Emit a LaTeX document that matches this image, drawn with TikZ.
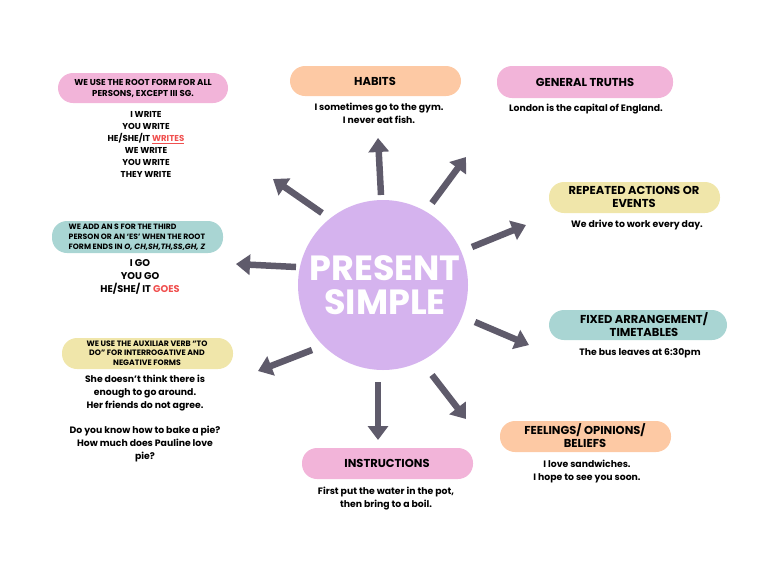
\documentclass[tikz,border=0pt]{standalone}
\usepackage{fontspec}
\setmainfont{Poppins}
\usetikzlibrary{arrows.meta}
\definecolor{lav}{HTML}{D5B3EE}
\definecolor{pk}{HTML}{F2B4D9}
\definecolor{pc}{HTML}{FDC9A4}
\definecolor{yl}{HTML}{F0E6AA}
\definecolor{tl}{HTML}{A9D5D3}
\definecolor{ar}{HTML}{5F5B6B}
\definecolor{rd}{HTML}{F0504F}
\begin{document}
\begin{tikzpicture}[x=1pt,y=-1pt,
 pill/.style={rounded corners=15pt,font=\bfseries\fontsize{11.5}{13}\selectfont,align=center},
 body/.style={font=\bfseries\fontsize{9.3}{13}\selectfont,align=center,anchor=north},
 arw/.style={draw=ar,line width=6.5pt,-{Triangle[width=20pt,length=14pt]}}]
\useasboundingbox (0,0) rectangle (768,576);
\fill[lav] (383,285) circle (85);
\node[white,font=\bfseries\fontsize{35}{34}\selectfont,align=center] (t) at (385,285) {PRESENT\\SIMPLE};
% pills
\fill[pk,rounded corners=15pt] (58,73) rectangle (228,103);
\node[pill,font=\bfseries\fontsize{8.6}{11}\selectfont] (p1) at (143,88) {WE USE THE ROOT FORM FOR ALL\\PERSONS, EXCEPT III SG.};
\fill[pc,rounded corners=15pt] (290,66) rectangle (461,96);
\node[pill] (p2) at (375,81) {HABITS};
\fill[pk,rounded corners=15pt] (497,66) rectangle (673,98);
\node[pill] (p3) at (585,82) {GENERAL TRUTHS};
\fill[yl,rounded corners=15pt] (549,182) rectangle (720,213);
\node[pill] (p4) at (634,197) {REPEATED ACTIONS OR\\EVENTS};
\fill[tl,rounded corners=15pt] (549,310) rectangle (727,340);
\node[pill] (p5) at (644,325) {FIXED ARRANGEMENT/\\TIMETABLES};
\fill[pc,rounded corners=15pt] (500,421) rectangle (671,452);
\node[pill] (p6) at (585,436) {FEELINGS/ OPINIONS/\\BELIEFS};
\fill[pk,rounded corners=15pt] (302,448) rectangle (473,479);
\node[pill] (p7) at (387,463) {INSTRUCTIONS};
\fill[yl,rounded corners=15pt] (62,338) rectangle (233,369);
\node[pill,font=\bfseries\fontsize{7.8}{9.5}\selectfont] (p8) at (147,353) {WE USE THE AUXILIAR VERB ``TO\\DO'' FOR INTERROGATIVE AND\\NEGATIVE FORMS};
\fill[tl,rounded corners=15pt] (52,221) rectangle (223,253);
\node[pill,font=\bfseries\fontsize{7.7}{10}\selectfont,align=left] (p9) at (137,237) {WE ADD AN S FOR THE THIRD\\PERSON OR AN `ES' WHEN THE ROOT\\FORM ENDS IN \textit{O, CH,SH,TH,SS,GH, Z}};
% bodies
\node[body,font=\bfseries\fontsize{8.6}{12}\selectfont] (b1) at (146,108) {I WRITE\\YOU WRITE\\HE/SHE/IT \textcolor{rd}{\underline{WRITES}}\\WE WRITE\\YOU WRITE\\THEY WRITE};
\node[body] (b2) at (379,100) {I sometimes go to the gym.\\I never eat fish.};
\node[body] (b3) at (586,101) {London is the capital of England.};
\node[body] (b4) at (637,217) {We drive to work every day.};
\node[body] (b5) at (640,345) {The bus leaves at 6:30pm};
\node[body] (b6) at (587,457) {I love sandwiches.\\I hope to see you soon.};
\node[body] (b7) at (386,484) {First put the water in the pot,\\then bring to a boil.};
\node[body] (b8) at (145,372) {She doesn't think there is\\enough to go around.\\Her friends do not agree.\\[12pt]Do you know how to bake a pie?\\How much does Pauline love\\pie?};
\node[body,font=\bfseries\fontsize{9.8}{13}\selectfont] (b9) at (140,256) {I GO\\YOU GO\\HE/SHE/ IT \textcolor{rd}{GOES}};
% arrows
\foreach \a/\b/\c/\d [count=\i] in {381/195/378/138, 432/203/466/157, 472/247/526/225, 475/322/529/345, 432/375/466/419, 378/382/378/440, 312/350/258/371, 296/267/236/264, 322/213/273/179}{
 \coordinate (s\i) at (\a,\b); \coordinate (e\i) at (\c,\d);
 \draw[arw] (s\i) -- (e\i);}
\end{tikzpicture}
\end{document}
